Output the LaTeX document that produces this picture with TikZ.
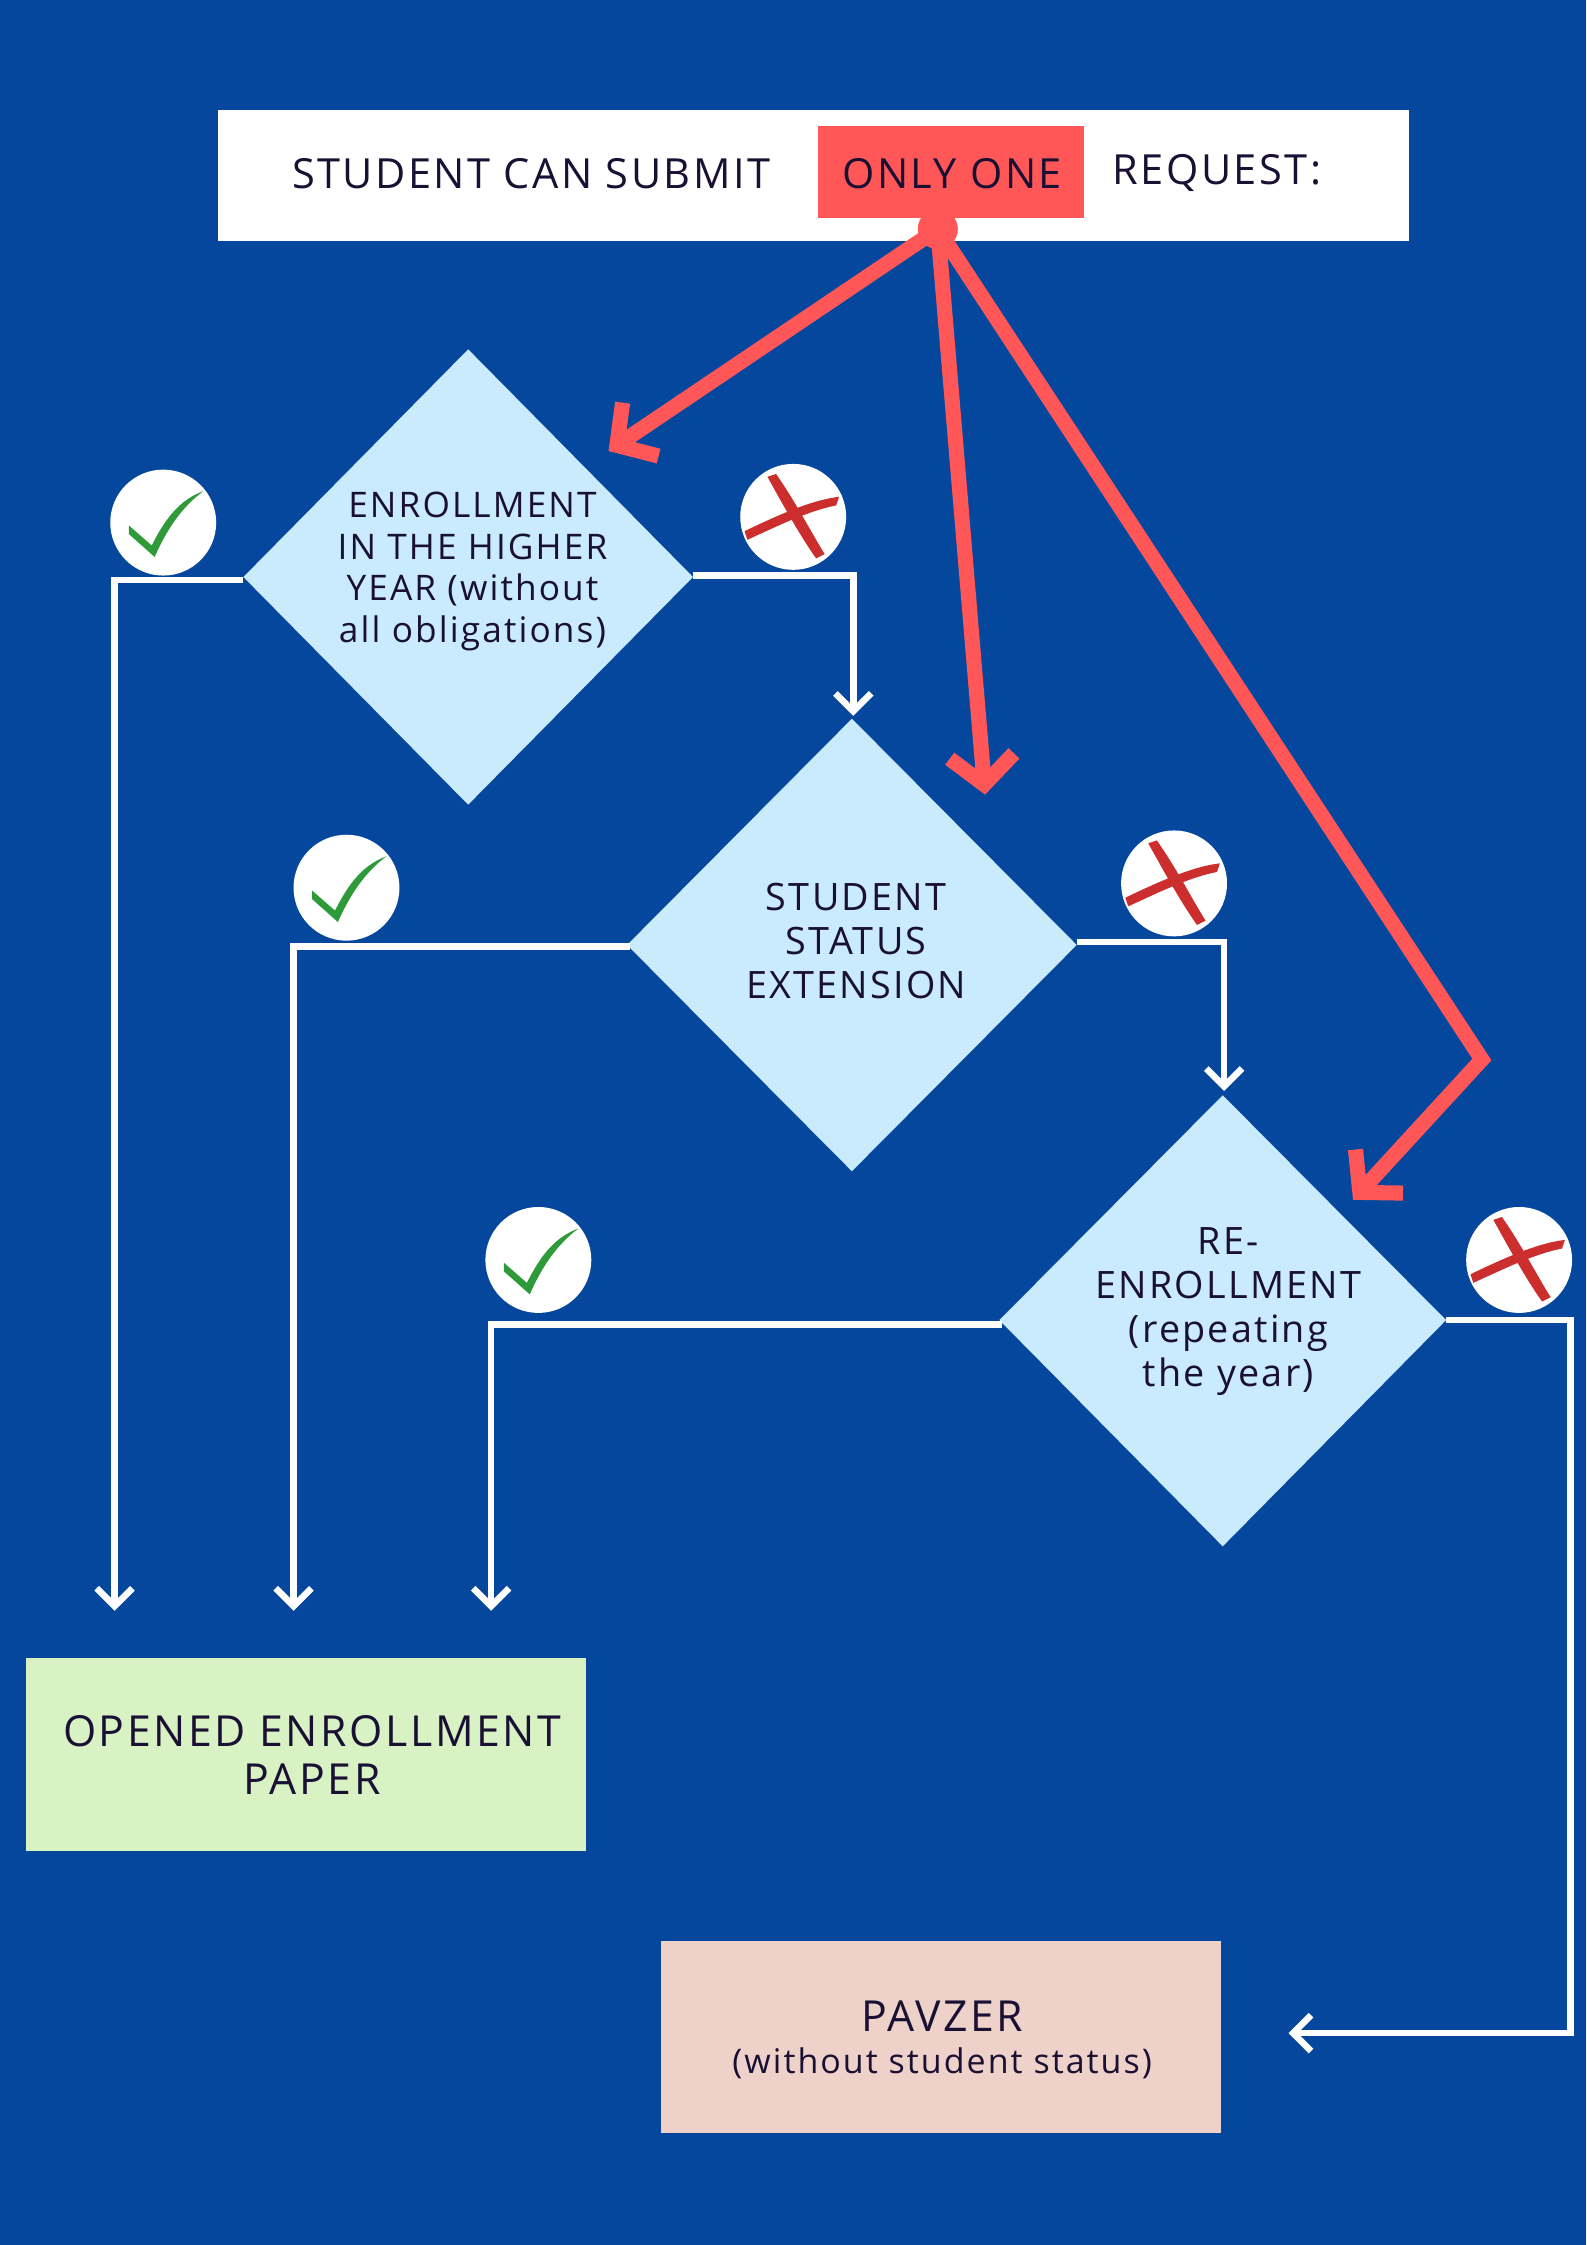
\documentclass[tikz,border=0pt]{standalone}
\usepackage{fontspec}
\setmainfont{Open Sans}[LetterSpace=6]
\usetikzlibrary{arrows.meta,shapes.geometric}
\definecolor{bg}{HTML}{06479E}
\definecolor{hl}{HTML}{FF5757}
\definecolor{dia}{HTML}{C9EBFB}
\definecolor{gbox}{HTML}{D9F2C4}
\definecolor{pbox}{HTML}{EED2CA}
\definecolor{txt}{HTML}{1A1033}
\definecolor{chk}{HTML}{2E9A3A}
\definecolor{crs}{HTML}{CC2E2E}
\begin{document}
\begin{tikzpicture}[x=0.02cm,y=-0.02cm,
  dtext/.style={text=txt,font=\fontsize{14}{16.5}\selectfont,align=center},
  wline/.style={draw=white,line width=2.6pt,-{Straight Barb[length=2.5mm,width=5mm,line width=2.6pt]}},
  rline/.style={draw=hl,line width=6pt,-{Straight Barb[length=4mm,width=9mm,line width=6pt]}},
  dmd/.style={fill=dia,draw=none},
  badge/.style={circle,fill=white,minimum size=1.48cm,inner sep=0pt}]
\useasboundingbox (0,0) rectangle (1108,1568);
\fill[bg] (0,0) rectangle (1108,1568);
% top box
\fill[white] (152,77) rectangle (984,168);
\fill[hl] (571,88) rectangle (757,152);
\node[text=txt,font=\fontsize{16.5}{18}\selectfont] (t1) at (371,121) {STUDENT CAN SUBMIT};
\node[text=txt,font=\fontsize{16.5}{18}\selectfont] (t2) at (665,121) {ONLY ONE};
\node[text=txt,font=\fontsize{16.5}{18}\selectfont] (t3) at (850,121) {REQUEST:};
\coordinate (src) at (655,160);
% diamonds
\fill[dmd] (170,403) -- (327,244) -- (484,403) -- (327,562) -- cycle;
\fill[dmd] (438,660) -- (595,502) -- (752,660) -- (595,818) -- cycle;
\fill[dmd] (698,922) -- (854,765) -- (1010,922) -- (854,1080) -- cycle;
\node[dtext] (d1) at (330,399) {ENROLLMENT\\IN THE HIGHER\\YEAR (without\\all obligations)};
\node[dtext,font=\fontsize{15}{17.5}\selectfont] (d2) at (598,657) {STUDENT\\STATUS\\EXTENSION};
\node[dtext,font=\fontsize{15}{17.5}\selectfont] (d3) at (858,916) {RE-\\ENROLLMENT\\(repeating\\the year)};
% boxes
\fill[gbox] (18,1158) rectangle (409,1293);
\node[text=txt,font=\fontsize{17}{19}\selectfont,align=center] (ob) at (218,1226) {OPENED ENROLLMENT\\PAPER};
\fill[pbox] (462,1356) rectangle (853,1490);
\node[text=txt,font=\fontsize{17}{19}\selectfont] (pz) at (658,1408) {PAVZER};
\node[text=txt,font=\fontsize{13.5}{15}\selectfont] (pz2) at (658,1441) {(without student status)};
% red arrows
\draw[rline] (src) -- (425,315);
\draw[rline] (src) -- (688,555);
\draw[rline,line join=miter] (src) -- (1035,740) -- (945,838);
\fill[hl] (src) circle (14);
% white connectors
\coordinate (l1) at (170,405); \coordinate (r1) at (484,402);
\coordinate (l2) at (440,661); \coordinate (r2) at (752,658);
\coordinate (l3) at (700,925); \coordinate (r3) at (1010,922);
\draw[wline] (l1) -- (80,405) -- (80,1125);
\draw[wline] (r1) -- (596,402) -- (596,500);
\draw[wline] (l2) -- (205,661) -- (205,1125);
\draw[wline] (r2) -- (855,658) -- (855,762);
\draw[wline] (l3) -- (343,925) -- (343,1125);
\draw[wline] (r3) -- (1097,922) -- (1097,1420) -- (900,1420);
% badges
\foreach \n/\x/\y in {c1/114/365,c2/242/620,c3/376/880}{
  \node[badge] (\n) at (\x,\y) {};
  \fill[chk] (\x-24,\y+2) -- (\x-8,\y+16) .. controls (\x+2,\y-4) and (\x+12,\y-16) .. (\x+28,\y-22)
     .. controls (\x+12,\y-10) and (\x+2,\y+6) .. (\x-6,\y+24) -- (\x-24,\y+8) -- cycle;
}
\foreach \n/\x/\y in {x1/554/361,x2/820/617,x3/1061/880}{
  \node[badge] (\n) at (\x,\y) {};
  \fill[crs] (\x-34,\y+10) .. controls (\x-5,\y-4) and (\x+15,\y-12) .. (\x+32,\y-14)
     -- (\x+30,\y-8) .. controls (\x+10,\y-4) and (\x-10,\y+6) .. (\x-32,\y+16) -- cycle;
  \fill[crs] (\x-18,\y-28) -- (\x-12,\y-30) .. controls (\x+2,\y-10) and (\x+12,\y+10) .. (\x+22,\y+26)
     -- (\x+16,\y+29) .. controls (\x+4,\y+12) and (\x-8,\y-10) .. cycle;
}
\end{tikzpicture}
\end{document}
